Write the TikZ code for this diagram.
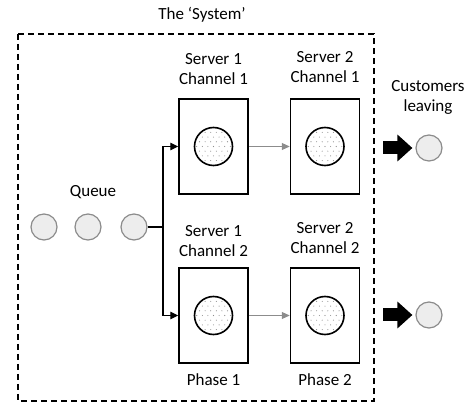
\documentclass[tikz,border=0pt]{standalone}
\usepackage{fontspec}
\setmainfont{Carlito}
\usetikzlibrary{arrows.meta, positioning}

\tikzset{
  server/.style={draw, line width=1.5pt, minimum width=69pt, minimum height=95pt, inner sep=0pt},
  core/.style={circle, draw, line width=1.6pt, minimum size=38pt, inner sep=0pt},
  customer/.style={circle, draw=black!45, fill=black!7, line width=1.2pt, minimum size=26pt, inner sep=0pt},
  feed/.style={line width=1.1pt, -{Triangle[length=8pt, width=7.5pt]}},
  pass/.style={draw=black!45, line width=1pt, -{Triangle[length=8pt, width=7pt]}},
  leave/.style={line width=13pt, -{Triangle[length=15pt, width=26pt]}, shorten >=3pt},
  tag/.style={align=center}
}

% grey speckles inside a server core
\newcommand{\speckle}[1]{
  \begin{scope}
    \clip (#1.center) circle (18pt);
    \foreach \r in {-4,...,4} {
      \foreach \c in {-4,...,4} {
        \pgfmathsetmacro{\dx}{\c*5.6 + mod(abs(\r),2)*2.8}
        \fill[black!45] ($(#1.center)+(\dx pt,\r*4.7pt)$) circle (0.55pt);
      }
    }
  \end{scope}
}
\usetikzlibrary{calc}

\begin{document}
\begin{tikzpicture}[x=1pt, y=-1pt, every node/.style={font=\fontsize{17}{20}\selectfont}]
  \useasboundingbox (0,0) rectangle (474,411);

  % the system boundary
  \draw[line width=1.5pt, dash pattern=on 6pt off 4pt] (18,34) rectangle (374,401);
  \node (title) at (202,15) {The ‘System’};

  % servers
  \node[server] (s11) at (213.5,146.5) {};
  \node[server] (s21) at (325,146.5) {};
  \node[server] (s12) at (213.5,315.5) {};
  \node[server] (s22) at (325,315.5) {};
  \node[core] (c11) at (s11) {};
  \node[core] (c21) at (s21) {};
  \node[core] (c12) at (s12) {};
  \node[core] (c22) at (s22) {};
  \speckle{c11}
  \speckle{c21}
  \speckle{c12}
  \speckle{c22}

  \node[tag] (l11) at (213.5,69) {Server 1\\Channel 1};
  \node[tag] (l21) at (325,67) {Server 2\\Channel 1};
  \node[tag] (l12) at (213.5,241) {Server 1\\Channel 2};
  \node[tag] (l22) at (325,238.5) {Server 2\\Channel 2};
  \node (p1) at (213.5,380) {Phase 1};
  \node (p2) at (325,380) {Phase 2};

  % queue
  \node[customer] (q1) at (44,227) {};
  \node[customer] (q2) at (88,227) {};
  \node[customer] (q3) at (134,227) {};
  \node (queue) at (93,192) {Queue};

  % leaving
  \node[customer] (o1) at (429,148) {};
  \node[customer] (o2) at (429,315) {};
  \node[tag] (cl) at (428,97) {Customers\\leaving};
  \coordinate (x1) at (383,148);
  \coordinate (x2) at (383,315);

  % connectors
  \coordinate (j) at (163,227);
  \draw[line width=1.1pt] (q3) -- (j);
  \draw[feed] (j) |- (s11);
  \draw[feed] (j) |- (s12);
  \draw[pass] (s11) -- (s21);
  \draw[pass] (s12) -- (s22);
  \draw[leave] (x1) -- (o1);
  \draw[leave] (x2) -- (o2);
\end{tikzpicture}
\end{document}
